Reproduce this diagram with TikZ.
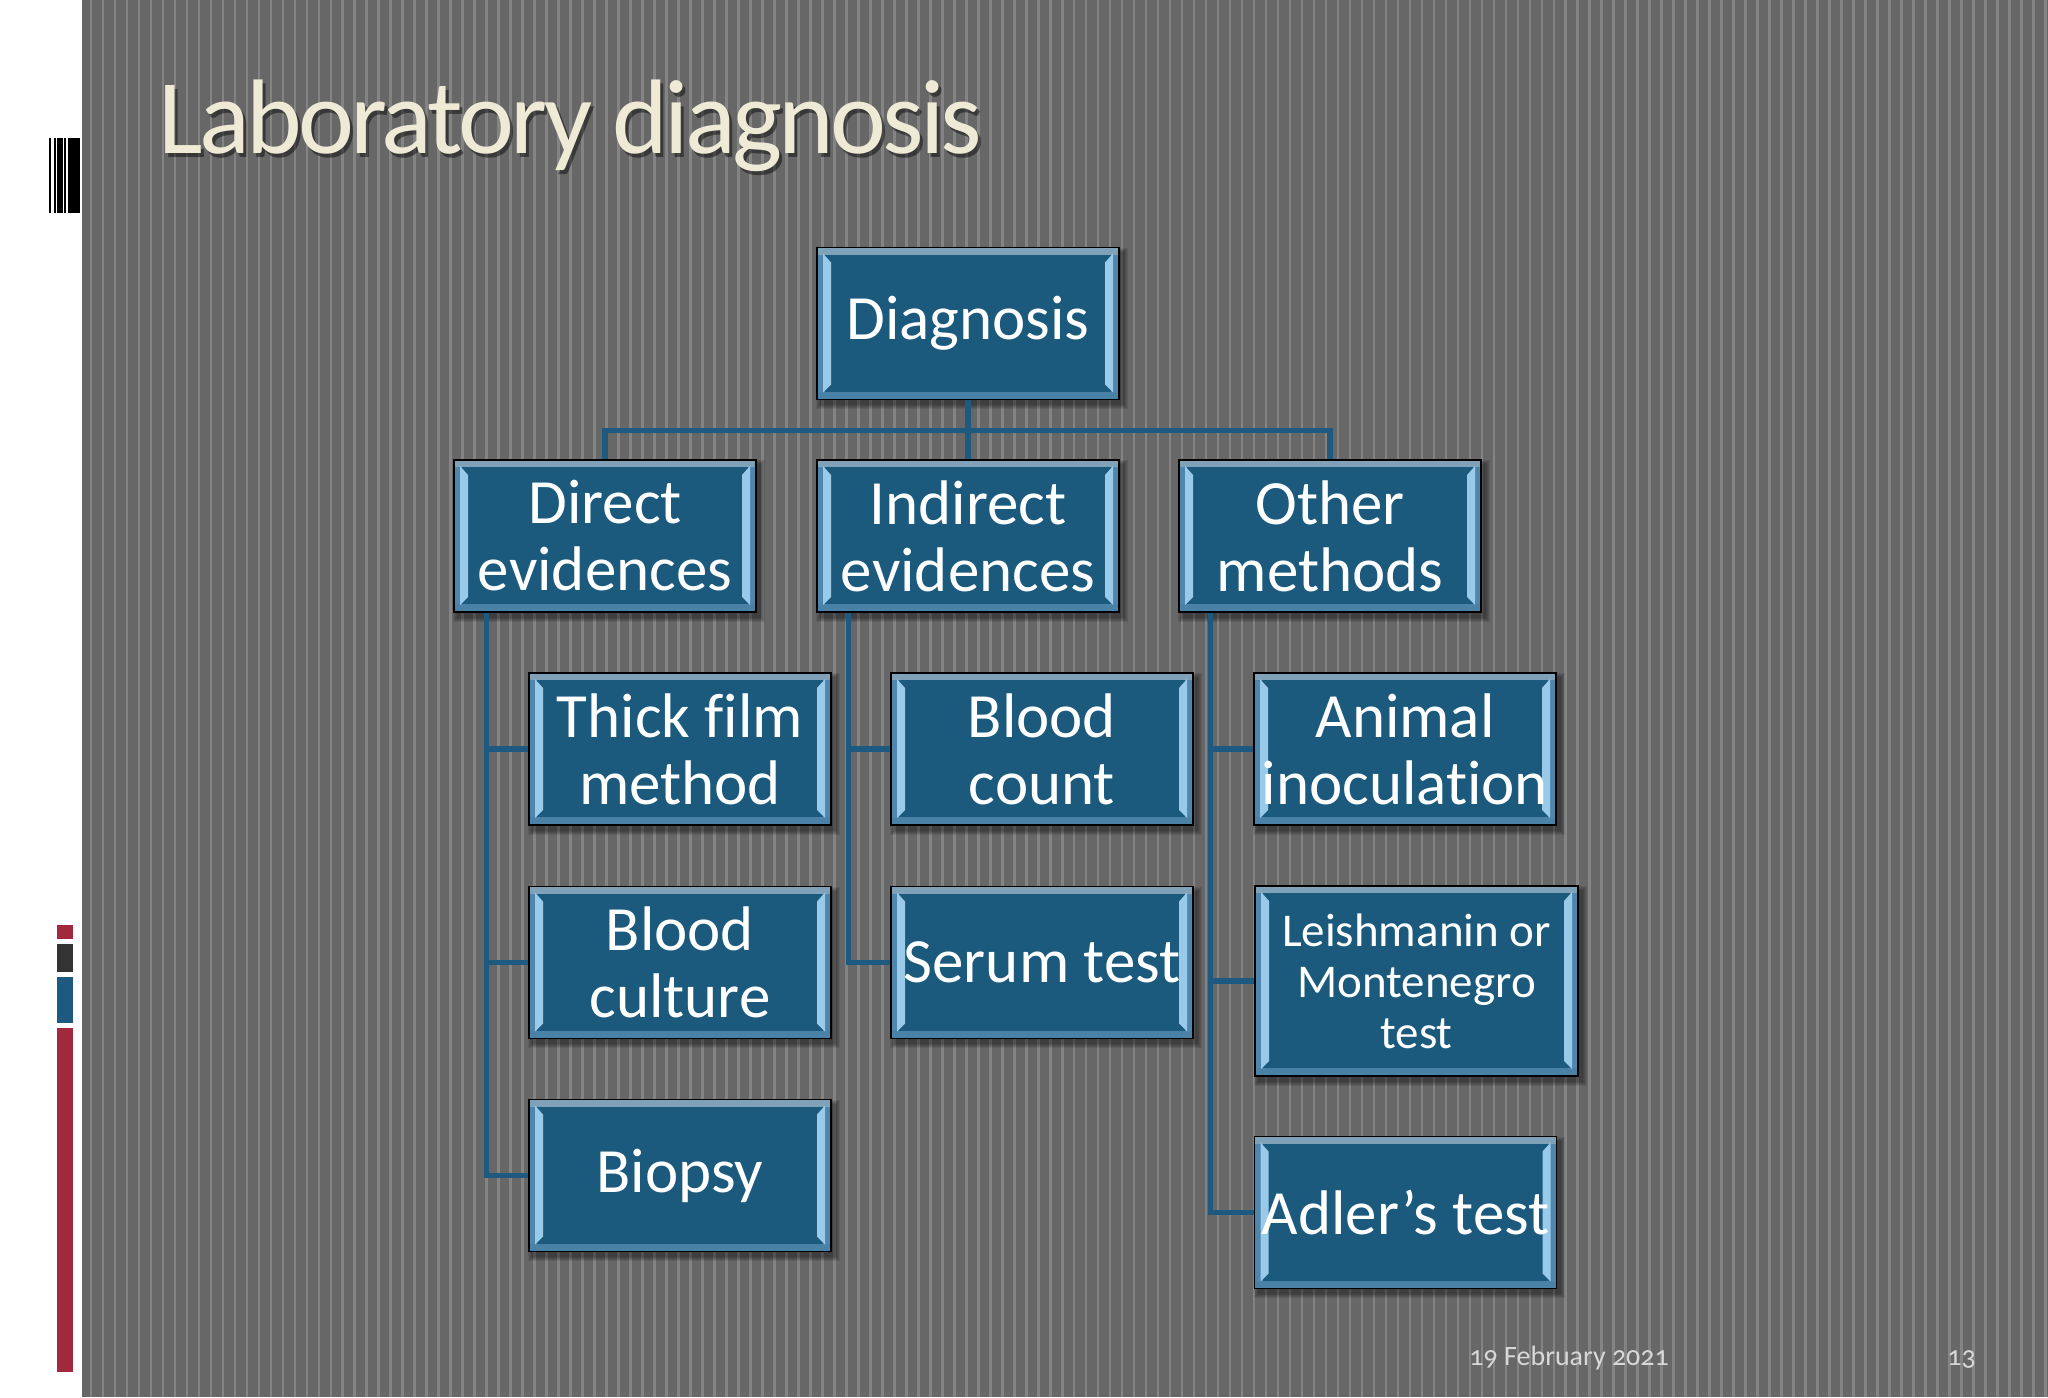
\documentclass[tikz,border=0pt]{standalone}
\usepackage{fontspec}
\setmainfont[Ligatures=NoCommon]{Carlito}
\newfontfamily\footfont[Numbers=OldStyle]{Carlito}
\newfontfamily\titlefont[LetterSpace=-3.5]{Carlito}
\usetikzlibrary{calc}
\definecolor{bgcol}{HTML}{676767}
\definecolor{stripecol}{HTML}{848484}
\definecolor{face}{HTML}{1B5A7D}
\definecolor{bevelside}{HTML}{4F86AD}
\definecolor{beveltop}{HTML}{7FA2B9}
\definecolor{bevelbot}{HTML}{4A81A6}
\definecolor{strip}{HTML}{9ACAEA}
\definecolor{conncol}{HTML}{1E5A80}
\definecolor{titlecol}{HTML}{EEEAD5}
\definecolor{footcol}{HTML}{D8D8D8}
\definecolor{redbar}{HTML}{A2293B}
\definecolor{darkbar}{HTML}{333333}
\definecolor{bluebar}{HTML}{1D5A80}
\pgfdeclarelayer{bg}
\pgfdeclarelayer{shad}
\pgfsetlayers{bg,shad,main}
\tikzset{
  bbox/.style={rectangle, draw=black, line width=0.7pt, fill=bevelside,
    minimum width=151pt, minimum height=76pt, inner sep=0pt, align=center,
    text=white, font=\fontsize{31.5}{33.5}\selectfont,
    path picture={
      \coordinate (pnw) at (path picture bounding box.north west);
      \coordinate (pse) at (path picture bounding box.south east);
      \coordinate (pne) at (path picture bounding box.north east);
      \coordinate (psw) at (path picture bounding box.south west);
      \fill[beveltop] (pnw) rectangle ($(pne)+(0,7)$);
      \fill[bevelbot] ($(psw)+(0,-8)$) rectangle (pse);
      \fill[face] ($(pnw)+(8,7)$) rectangle ($(pse)+(-8,-8)$);
      \fill[strip] ($(pnw)+(6,6)$) -- ($(pnw)+(14,15)$) -- ($(psw)+(14,-15)$) -- ($(psw)+(6,-7)$) -- cycle;
      \fill[strip] ($(pne)+(-6,6)$) -- ($(pne)+(-14,15)$) -- ($(pse)+(-14,-15)$) -- ($(pse)+(-6,-7)$) -- cycle;
    }},
  conn/.style={draw=conncol, line width=2.6pt},
}
\begin{document}
\begin{tikzpicture}[x=0.5pt, y=-0.5pt]
\useasboundingbox (0,0) rectangle (2048,1397);
\begin{pgfonlayer}{bg}
  \fill[white] (0,0) rectangle (82,1397);
  \fill[bgcol] (82,0) rectangle (2048,1397);
  \foreach \i in {0,...,163} {
    \fill[stripecol] ({91+11.99*\i-1.3},0) rectangle ({91+11.99*\i+1.3},1397);
  }
  % barcode
  \fill[black] (49,138) rectangle (51,213);
  \fill[black] (54,138) rectangle (56,213);
  \fill[black] (57.4,138) rectangle (62.5,213);
  \fill[black] (63.8,138) rectangle (66.3,213);
  \fill[black] (67.6,138) rectangle (79.7,213);
  % colour bars
  \fill[redbar] (57,925) rectangle (73,939);
  \fill[darkbar] (57,944) rectangle (73,972);
  \fill[bluebar] (57,977) rectangle (73,1023);
  \fill[redbar] (57,1028) rectangle (73,1372);
\end{pgfonlayer}

% title
\node[anchor=base west, inner sep=0pt, text=black, opacity=0.45, font=\titlefont\fontsize{53}{60}\selectfont] (titleshadow) at (161,157) {Laboratory diagnosis};
\node[anchor=base west, inner sep=0pt, text=titlecol, font=\titlefont\fontsize{53}{60}\selectfont] (title) at (158,153) {Laboratory diagnosis};

% boxes
\node[bbox] (diag) at (968,323.5) {Diagnosis};
\node[bbox] (direct) at (605,536) {Direct\\evidences};
\node[bbox] (indirect) at (968,536) {Indirect\\evidences};
\node[bbox] (other) at (1330,536) {Other\\methods};
\node[bbox] (thick) at (680,749) {Thick film\\method};
\node[bbox] (bcount) at (1042,749) {Blood\\count};
\node[bbox] (animal) at (1405,749) {Animal\\inoculation};
\node[bbox] (culture) at (680,962.5) {Blood\\culture};
\node[bbox] (serum) at (1042,962.5) {Serum test};
\node[bbox, minimum width=161.5pt, minimum height=95pt, font=\fontsize{23.5}{25.5}\selectfont] (leish) at (1416.5,981) {Leishmanin or\\Montenegro\\test};
\node[bbox] (biopsy) at (680,1175.5) {Biopsy};
\node[bbox] (adler) at (1405.5,1212.5) {Adler’s test};

% shadows
\begin{pgfonlayer}{shad}
  \foreach \n in {diag,direct,indirect,other,thick,bcount,animal,culture,serum,leish,biopsy,adler} {
    \foreach \k in {0,...,4} {
      \fill[black, opacity=0.09] ($(\n.north west)+(4-\k,5-\k)$) rectangle ($(\n.south east)+(4+\k,5+\k)$);
    }
  }
\end{pgfonlayer}

% connectors
\coordinate (jn) at ($(diag.south)+(0,30)$);
\draw[conn] (diag.south) -- (jn);
\draw[conn] (direct.north) |- (jn) -| (other.north);
\draw[conn] (indirect.north) -- (jn);

\coordinate (dt) at ($(direct.south west)+(33,0)$);
\draw[conn] (dt) |- (biopsy.west);
\draw[conn] (thick.west) -- (thick.west -| dt);
\draw[conn] (culture.west) -- (culture.west -| dt);

\coordinate (it) at ($(indirect.south west)+(32,0)$);
\draw[conn] (it) |- (serum.west);
\draw[conn] (bcount.west) -- (bcount.west -| it);

\coordinate (ot) at ($(other.south west)+(32,0)$);
\draw[conn] (ot) |- (adler.west);
\draw[conn] (animal.west) -- (animal.west -| ot);
\draw[conn] (leish.west) -- (leish.west -| ot);

% footer
\node[anchor=base west, inner sep=0pt, text=footcol, font=\footfont\fontsize{14}{16}\selectfont] (date) at (1469,1365) {19 February 2021};
\node[anchor=base west, inner sep=0pt, text=footcol, font=\footfont\fontsize{14}{16}\selectfont] (pnum) at (1947,1365) {13};
\end{tikzpicture}
\end{document}
